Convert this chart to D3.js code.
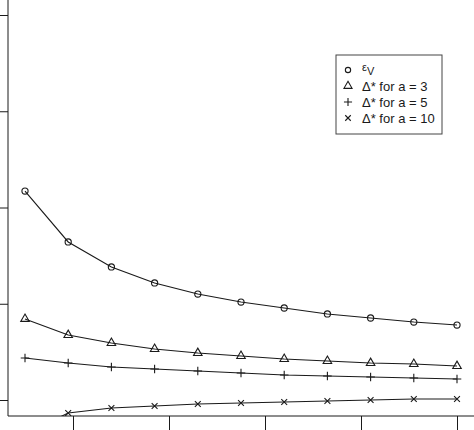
<!DOCTYPE html>
<html>
<head>
<meta charset="utf-8">
<script src="https://cdn.jsdelivr.net/npm/d3@7"></script>
<style>
  html, body { margin: 0; padding: 0; background: #fff; }
  svg { display: block; font-family: "Liberation Sans", Arial, sans-serif; }
</style>
</head>
<body>
<div id="chart"></div>
<script>
// data (axis labels are cropped out of the reference, only the ticks remain)
const xValues = [50, 95, 140, 185, 230, 275, 320, 365, 410, 455, 500];
const xTicks = [100, 200, 300, 400, 500];
const yTicks = [0, 0.1, 0.2, 0.3, 0.4];

const epsV = [0.2171, 0.1642, 0.1382, 0.1216, 0.1101, 0.1018, 0.0956, 0.0894, 0.0852, 0.0810, 0.0779];
const deltaA3 = [0.0842, 0.0675, 0.0592, 0.0530, 0.0488, 0.0457, 0.0426, 0.0405, 0.0384, 0.0374, 0.0353];
const deltaA5 = [0.0436, 0.0384, 0.0343, 0.0322, 0.0301, 0.0281, 0.0260, 0.0249, 0.0239, 0.0229, 0.0218];
const deltaA10 = [-0.0353, -0.0135, -0.0083, -0.0062, -0.0042, -0.0031, -0.0021, -0.0010, 0.0000, 0.0010, 0.0010];

const legendLabels = ['\u03b5', '\u0394* for a = 3', '\u0394* for a = 5', '\u0394* for a = 10'];

const width = 474;
const height = 430;
const axisX = 8;     // left axis line
const axisY = 416;   // bottom axis line

const x = d3.scaleLinear().domain([50, 500]).range([25, 457]);
const y = d3.scaleLinear().domain([0, 0.4]).range([400, 15]);

const series = [
  { values: epsV, symbol: d3.symbolCircle, size: 30 },
  { values: deltaA3, symbol: d3.symbolTriangle2, size: 52 },
  { values: deltaA5, symbol: d3.symbolPlus, size: 26 },
  { values: deltaA10, symbol: d3.symbolTimes, size: 24 }
];

const ink = '#1a1a1a';

const svg = d3.select('#chart')
  .append('svg')
  .attr('width', width)
  .attr('height', height);

svg.append('defs')
  .append('clipPath')
  .attr('id', 'plot-clip')
  .append('rect')
  .attr('x', axisX)
  .attr('y', 0)
  .attr('width', width - axisX)
  .attr('height', axisY);

// axes
const yAxis = svg.append('g')
  .attr('transform', `translate(${axisX},0)`)
  .call(d3.axisLeft(y).tickValues(yTicks).tickSize(10).tickFormat(''));
const xAxis = svg.append('g')
  .attr('transform', `translate(0,${axisY})`)
  .call(d3.axisBottom(x).tickValues(xTicks).tickSize(16).tickFormat(''));
[yAxis, xAxis].forEach(g => {
  g.select('.domain').remove();
  g.selectAll('.tick line').attr('stroke', ink).attr('stroke-width', 1);
});

svg.append('path')
  .attr('d', `M${axisX},0V${axisY}H${width}`)
  .attr('fill', 'none')
  .attr('stroke', ink)
  .attr('stroke-width', 1);

// lines and points
const plot = svg.append('g').attr('clip-path', 'url(#plot-clip)');
const line = d3.line()
  .x((d, i) => x(xValues[i]))
  .y(d => y(d));

series.forEach(s => {
  plot.append('path')
    .datum(s.values)
    .attr('d', line)
    .attr('fill', 'none')
    .attr('stroke', ink)
    .attr('stroke-width', 1.1);

  plot.selectAll(null)
    .data(s.values)
    .enter()
    .append('path')
    .attr('transform', (d, i) => `translate(${x(xValues[i])},${y(d)})`)
    .attr('d', d3.symbol().type(s.symbol).size(s.size))
    .attr('fill', 'none')
    .attr('stroke', ink)
    .attr('stroke-width', 1.1);
});

// legend
const legend = svg.append('g').attr('transform', 'translate(336,55)');
legend.append('rect')
  .attr('width', 106)
  .attr('height', 79)
  .attr('fill', '#fff')
  .attr('stroke', '#444')
  .attr('stroke-width', 1);

series.forEach((s, i) => {
  const row = legend.append('g').attr('transform', `translate(0,${15 + i * 16})`);
  row.append('path')
    .attr('transform', 'translate(12,0)')
    .attr('d', d3.symbol().type(s.symbol).size(i === 0 ? 22 : s.size * 0.9))
    .attr('fill', 'none')
    .attr('stroke', ink)
    .attr('stroke-width', 1.1);
  const label = row.append('text')
    .attr('x', 26)
    .attr('y', 5)
    .attr('fill', ink)
    .style('font-size', '13px')
    .text(legendLabels[i]);
  if (i === 0) {
    label.attr('y', 1).style('font-size', '11px');
    label.append('tspan')
      .attr('dy', 4)
      .style('font-size', '11px')
      .text('V');
  }
});
</script>
</body>
</html>
